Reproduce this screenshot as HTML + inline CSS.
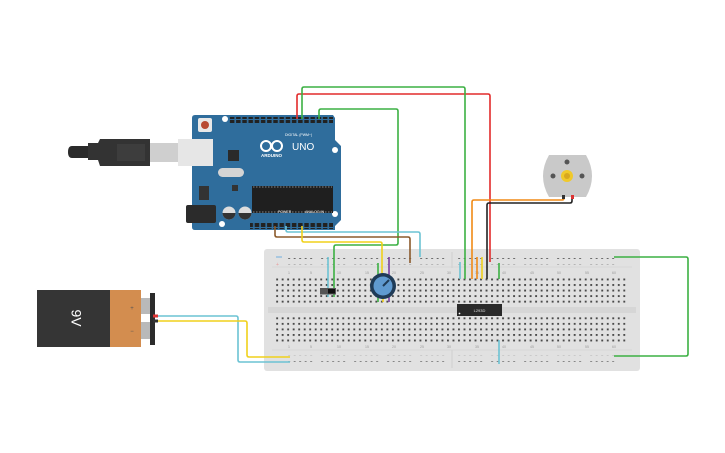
<!DOCTYPE html>
<html><head><meta charset="utf-8"><style>html,body{margin:0;padding:0;background:#fff;}svg{display:block}</style></head>
<body>
<svg width="725" height="453" viewBox="0 0 725 453" xmlns="http://www.w3.org/2000/svg" font-family="Liberation Sans, sans-serif">
<defs>
<pattern id="tp" x="276.2" y="278.5" width="5.51" height="5.55" patternUnits="userSpaceOnUse"><rect x="0" y="0" width="1.9" height="1.9" fill="#4a4a4a"/></pattern>
<pattern id="rp" x="288.2" y="0" width="33" height="6" patternUnits="userSpaceOnUse">
<rect x="0" y="0" width="1.9" height="1.9" fill="#4a4a4a"/><rect x="5.5" y="0" width="1.9" height="1.9" fill="#4a4a4a"/><rect x="11" y="0" width="1.9" height="1.9" fill="#4a4a4a"/><rect x="16.5" y="0" width="1.9" height="1.9" fill="#4a4a4a"/><rect x="22" y="0" width="1.9" height="1.9" fill="#4a4a4a"/></pattern>
<pattern id="rp2" x="458.2" y="0" width="33" height="6" patternUnits="userSpaceOnUse">
<rect x="0" y="0" width="1.9" height="1.9" fill="#4a4a4a"/><rect x="5.5" y="0" width="1.9" height="1.9" fill="#4a4a4a"/><rect x="11" y="0" width="1.9" height="1.9" fill="#4a4a4a"/><rect x="16.5" y="0" width="1.9" height="1.9" fill="#4a4a4a"/><rect x="22" y="0" width="1.9" height="1.9" fill="#4a4a4a"/></pattern>
<pattern id="hp" x="0" y="0" width="6.2" height="6" patternUnits="userSpaceOnUse"><rect x="0.5" y="0" width="4.5" height="5" fill="#222"/></pattern>
</defs>

<!-- Breadboard -->
<rect x="264" y="249" width="376" height="122" rx="3" fill="#e1e1e1"/>
<line x1="272" y1="267" x2="632" y2="267" stroke="#d2d2d2" stroke-width="0.8"/>
<line x1="272" y1="350" x2="632" y2="350" stroke="#d2d2d2" stroke-width="0.8"/>
<rect x="268" y="307" width="368" height="6" fill="#d6d6d6"/>
<line x1="452" y1="252" x2="452" y2="268" stroke="#d0d0d0"/>
<line x1="452" y1="350" x2="452" y2="368" stroke="#d0d0d0"/>
<rect x="288" y="256.8" width="162" height="2" fill="url(#rp)"/>
<rect x="288" y="262.3" width="162" height="2" fill="url(#rp)"/>
<rect x="288" y="355.8" width="162" height="2" fill="url(#rp)"/>
<rect x="288" y="361.3" width="162" height="2" fill="url(#rp)"/>
<rect x="458" y="256.8" width="160" height="2" fill="url(#rp2)"/>
<rect x="458" y="262.3" width="160" height="2" fill="url(#rp2)"/>
<rect x="458" y="355.8" width="160" height="2" fill="url(#rp2)"/>
<rect x="458" y="361.3" width="160" height="2" fill="url(#rp2)"/>
<rect x="276" y="256" width="6" height="2" fill="#a9c8e0"/>
<text x="276" y="266" font-size="5" fill="#e79a9a">+</text>
<rect x="276" y="278" width="352" height="25" fill="url(#tp)"/>
<rect x="276" y="316.8" width="352" height="25" fill="url(#tp)"/>
<g font-size="3.5" fill="#9a9a9a">
<text x="288" y="274">1</text><text x="310" y="274">5</text><text x="337" y="274">10</text><text x="365" y="274">15</text><text x="392" y="274">20</text><text x="420" y="274">25</text><text x="447" y="274">30</text><text x="475" y="274">35</text><text x="502" y="274">40</text><text x="530" y="274">45</text><text x="557" y="274">50</text><text x="585" y="274">55</text><text x="612" y="274">60</text>
<text x="288" y="348">1</text><text x="310" y="348">5</text><text x="337" y="348">10</text><text x="365" y="348">15</text><text x="392" y="348">20</text><text x="420" y="348">25</text><text x="447" y="348">30</text><text x="475" y="348">35</text><text x="502" y="348">40</text><text x="530" y="348">45</text><text x="557" y="348">50</text><text x="585" y="348">55</text><text x="612" y="348">60</text>
</g>

<!-- Arduino -->
<path d="M195 115 H333 L335 118 V140 L341 146 V220 L335 226 V230 H195 Q192 230 192 227 V118 Q192 115 195 115 Z" fill="#2f6d9c"/>
<rect x="229" y="117" width="104" height="6" fill="url(#hp)"/>
<rect x="250" y="223" width="83" height="6" fill="url(#hp)"/>
<circle cx="225" cy="119" r="3" fill="#fff"/><circle cx="335" cy="150" r="3" fill="#fff"/><circle cx="335" cy="214" r="3" fill="#fff"/><circle cx="222" cy="224" r="3" fill="#fff"/>
<rect x="198" y="118" width="14" height="14" rx="2" fill="#e8e8e8"/><circle cx="205" cy="125" r="4" fill="#b84a32"/>
<rect x="228" y="150" width="11" height="11" fill="#2a2a2a"/>
<rect x="218" y="168" width="26" height="9" rx="4.5" fill="#d4d4d4"/>
<rect x="199" y="186" width="10" height="14" fill="#333"/>
<rect x="232" y="185" width="6" height="6" fill="#333"/>
<rect x="252" y="186" width="81" height="27" fill="#1f1f1f"/>
<line x1="253" y1="187" x2="332" y2="187" stroke="#eee" stroke-width="0.6" stroke-dasharray="1.5,1.5"/>
<line x1="253" y1="212" x2="332" y2="212" stroke="#eee" stroke-width="0.6" stroke-dasharray="1.5,1.5"/>
<circle cx="229" cy="213" r="6.5" fill="#ddd"/><circle cx="245" cy="213" r="6.5" fill="#ddd"/>
<path d="M222.5 213 A6.5 6.5 0 0 0 235.5 213 Z" fill="#333"/><path d="M238.5 213 A6.5 6.5 0 0 0 251.5 213 Z" fill="#333"/>
<rect x="186" y="205" width="30" height="18" rx="2" fill="#2b2b2b"/>
<g fill="none" stroke="#fff" stroke-width="2"><circle cx="266" cy="146" r="5"/><circle cx="277" cy="146" r="5"/></g>
<text x="261" y="157" font-size="4.5" fill="#fff" font-weight="bold">ARDUINO</text>
<text x="292" y="150" font-size="10" fill="#fff">UNO</text>
<text x="285" y="136" font-size="3.5" fill="#fff">DIGITAL (PWM~)</text>
<text x="278" y="213" font-size="3.5" fill="#fff">POWER</text><text x="305" y="213" font-size="3.5" fill="#fff">ANALOG IN</text>
<!-- USB -->
<rect x="178" y="139" width="35" height="27" fill="#e6e6e6"/>
<rect x="150" y="143" width="28" height="19" fill="#cfcfcf"/>
<path d="M100 139 H150 V166 H100 L98 160 H88 V143 H98 Z" fill="#333"/>
<rect x="117" y="144" width="28" height="17" fill="#3d3d3d"/>
<path d="M72 146 H88 V158 H72 Q68 158 68 152 Q68 146 72 146 Z" fill="#2b2b2b"/>

<!-- Battery -->
<rect x="37" y="290" width="74" height="57" fill="#353535"/>
<rect x="110" y="290" width="31" height="57" fill="#d38d4f"/>
<text x="75" y="318" font-size="14" fill="#fff" text-anchor="middle" transform="rotate(90 75 318)" dominant-baseline="middle">9V</text>
<text x="132" y="310" font-size="6" fill="#555" text-anchor="middle">+</text>
<text x="132" y="333" font-size="6" fill="#555" text-anchor="middle">−</text>
<rect x="141" y="298" width="9" height="16" fill="#b9b9b9"/><rect x="141" y="322" width="9" height="17" fill="#b9b9b9"/>
<rect x="150" y="293" width="5" height="52" fill="#2b2b2b"/>

<!-- Motor -->
<path d="M549 155 H586 Q598 176 586 197 H549 Q537 176 549 155 Z" fill="#c9c9c9"/>
<circle cx="567" cy="162" r="2.5" fill="#555"/><circle cx="553" cy="176" r="2.5" fill="#555"/><circle cx="582" cy="176" r="2.5" fill="#555"/>
<circle cx="567" cy="176" r="6" fill="#f0c92a"/><circle cx="567" cy="176" r="3" fill="#d8a820"/>

<!-- Wires -->
<g fill="none" stroke-width="1.6" stroke-linejoin="round">
<path d="M297 119 V96 Q297 94 299 94 H488 Q490 94 490 96 V262" stroke="#e22b2b"/>
<path d="M302 119 V89 Q302 87 304 87 H463 Q465 87 465 89 V279" stroke="#3cb043"/>
<path d="M319 119 V111 Q319 109 321 109 H396 Q398 109 398 111 V243 Q398 245 396 245 H336 Q334 245 334 247 V297" stroke="#3cb043"/>
<path d="M275 226 V235 Q275 237 277 237 H408 Q410 237 410 239 V263" stroke="#8b5a2b"/>
<path d="M286 226 V230 Q286 232 288 232 H418 Q420 232 420 234 V257" stroke="#6cc3d4"/>
<path d="M302 226 V240 Q302 242 304 242 H380 Q382 242 382 244 V275" stroke="#f0d11c"/>
<path d="M564 196 V198 Q564 200 562 200 H474 Q472 200 472 202 V279" stroke="#f08a16"/>
<path d="M572 196 V201 Q572 203 570 203 H489 Q487 203 487 205 V279" stroke="#222"/>
<path d="M460 262 V279" stroke="#6cc3d4"/>
<path d="M477 257 V279" stroke="#f08a16"/>
<path d="M482 257 V279" stroke="#f0d11c"/>
<path d="M499 263 V279" stroke="#3cb043"/>
<path d="M328 257 V297" stroke="#6cc3d4"/>
<path d="M378 263 V280" stroke="#3cb043"/>
<path d="M389 257 V280" stroke="#7a3fa0"/>
<path d="M378 292 V302" stroke="#3cb043"/><path d="M383 292 V302" stroke="#f0d11c"/><path d="M389 292 V302" stroke="#7a3fa0"/>
<path d="M499 340 V364" stroke="#6cc3d4"/>
<path d="M614 257 H686 Q688 257 688 259 V354 Q688 356 686 356 H614" stroke="#3cb043"/>
<path d="M157 316 H236 Q238 316 238 318 V360 Q238 362 240 362 H290" stroke="#6cc3d4"/>
<path d="M157 321 H245 Q247 321 247 323 V355 Q247 357 249 357 H290" stroke="#f0d11c"/>
</g>
<rect x="153" y="314.5" width="5" height="3" fill="#d33"/><rect x="153" y="319.5" width="5" height="3" fill="#333"/>
<rect x="562" y="195" width="3" height="4" fill="#333"/><rect x="571" y="195" width="3" height="4" fill="#d33"/>

<!-- Switch -->
<rect x="320" y="288" width="16" height="6.5" fill="#555"/><rect x="328" y="289" width="7" height="4.5" fill="#111"/>
<!-- Pot -->
<circle cx="383" cy="286" r="13" fill="#1f3b57"/>
<circle cx="383" cy="286" r="9.5" fill="#5f9ad0"/>
<line x1="383" y1="286" x2="389" y2="280" stroke="#1f3b57" stroke-width="2"/>
<!-- L293D -->
<rect x="457" y="304" width="45" height="12" fill="#2a2a2a"/>
<text x="479.5" y="312" font-size="4" fill="#ddd" text-anchor="middle">L293D</text>
<circle cx="459.5" cy="313.5" r="0.9" fill="#fff"/>
</svg>
</body></html>
